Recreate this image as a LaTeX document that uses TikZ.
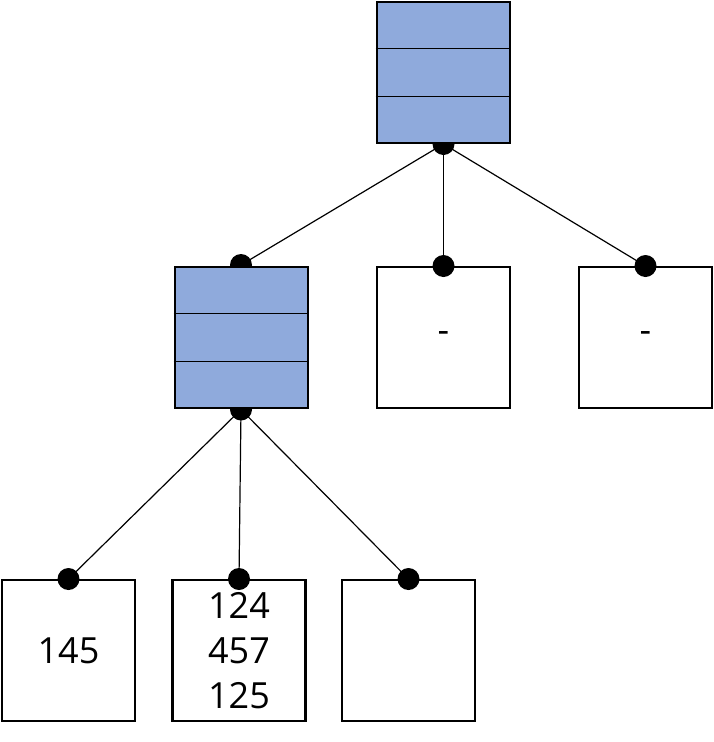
\documentclass[tikz,border=0pt]{standalone}
\usepackage{fontspec}
\setmainfont{Open Sans}
\usetikzlibrary{calc}
\definecolor{boxblue}{RGB}{143,170,220}
\tikzset{
  bluebox/.style={draw=black, line width=2.6pt, fill=boxblue, minimum width=133pt, minimum height=141pt, inner sep=0pt},
  whitebox/.style={draw=black, line width=2.6pt, fill=white, minimum width=133pt, minimum height=141pt, inner sep=0pt, align=center, font=\fontsize{36}{45}\selectfont},
  rowline/.style={line width=1.5pt},
  conn/.style={line width=1.2pt},
  knob/.style={circle, fill=black, minimum size=22pt, inner sep=0pt}
}
\begin{document}
\begin{tikzpicture}[x=1pt,y=-1pt]
\useasboundingbox (0,0) rectangle (714,742);
% node positions (used for connectors)
\coordinate (rS) at (443.5,144);
\coordinate (aN) at (241,265);
\coordinate (aS) at (241,409.5);
\coordinate (bN) at (443.5,266);
\coordinate (cN) at (645.5,266);
\coordinate (dN) at (68.5,579);
\coordinate (eN) at (239,579);
\coordinate (fN) at (408.5,579);
% connectors
\draw[conn] (rS) -- (aN);
\draw[conn] (rS) -- (bN);
\draw[conn] (rS) -- (cN);
\draw[conn] (aS) -- (dN);
\draw[conn] (aS) -- (eN);
\draw[conn] (aS) -- (fN);
% knobs hidden partly behind blue boxes
\node[knob] (kr) at (rS) {};
\node[knob] (ka) at (aN) {};
\node[knob] (ks) at (aS) {};
% blue boxes
\node[bluebox] (r) at (443.5,72.5) {};
\draw[rowline] ($(r.north west)!1/3!(r.south west)$) -- ($(r.north east)!1/3!(r.south east)$);
\draw[rowline] ($(r.north west)!2/3!(r.south west)$) -- ($(r.north east)!2/3!(r.south east)$);
\node[bluebox] (a) at (241.5,337.5) {};
\draw[rowline] ($(a.north west)!1/3!(a.south west)$) -- ($(a.north east)!1/3!(a.south east)$);
\draw[rowline] ($(a.north west)!2/3!(a.south west)$) -- ($(a.north east)!2/3!(a.south east)$);
% white boxes
\node[whitebox] (b) at (443.5,337.5) {-};
\node[whitebox] (c) at (645.5,337.5) {-};
\node[whitebox] (d) at (68.5,650.5) {145};
\node[whitebox] (e) at (239,650.5) {124\\457\\125};
\node[whitebox] (f) at (408.5,650.5) {};
% knobs on top of white boxes
\node[knob] (kb) at (bN) {};
\node[knob] (kc) at (cN) {};
\node[knob] (kd) at (dN) {};
\node[knob] (ke) at (eN) {};
\node[knob] (kf) at (fN) {};
\end{tikzpicture}
\end{document}
